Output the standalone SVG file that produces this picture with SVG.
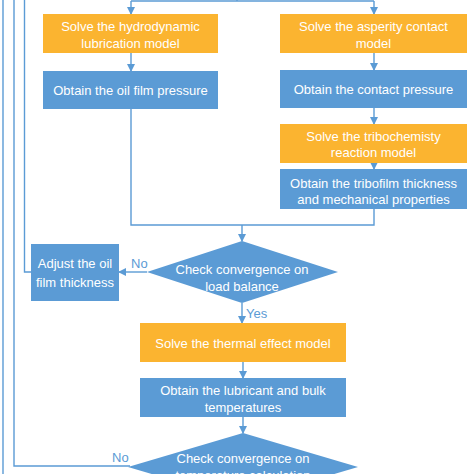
<svg xmlns="http://www.w3.org/2000/svg" width="474" height="474" viewBox="0 0 474 474">
<style>
.blue{fill:#5B9BD5}
.orange{fill:#FBB430}
.t{font-family:"Liberation Sans",Arial,sans-serif;font-size:13px;fill:#ffffff;text-anchor:middle}
.lbl{font-family:"Liberation Sans",Arial,sans-serif;font-size:13px;fill:#5B9BD5}
.c{fill:none;stroke:#5B9BD5;stroke-width:1.4}
</style>
<defs>
<marker id="ah" markerWidth="8" markerHeight="8" refX="7" refY="4" orient="auto" markerUnits="userSpaceOnUse">
<path d="M0,0 L8,4 L0,8 Z" fill="#5B9BD5"/>
</marker>
</defs>
<rect width="474" height="474" fill="#ffffff"/>
<g id="connectors">
<path class="c" d="M3,0 V474"/>
<path class="c" d="M237,-2 V1"/>
<path class="c" d="M131,1 H374"/>
<path class="c" d="M131,1 V14" marker-end="url(#ah)"/>
<path class="c" d="M374,1 V14" marker-end="url(#ah)"/>
<path class="c" d="M131,53 V71" marker-end="url(#ah)"/>
<path class="c" d="M374,53 V70" marker-end="url(#ah)"/>
<path class="c" d="M374,108 V124" marker-end="url(#ah)"/>
<path class="c" d="M374,163 V169" marker-end="url(#ah)"/>
<path class="c" d="M374,209 V225 H131 V109"/>
<path class="c" d="M242,225 V241" marker-end="url(#ah)"/>
<path class="c" d="M147,272 H119" marker-end="url(#ah)"/>
<path class="c" d="M31,272 H24.5 V0"/>
<path class="c" d="M242,303 V323" marker-end="url(#ah)"/>
<path class="c" d="M243,362 V378" marker-end="url(#ah)"/>
<path class="c" d="M243,417 V433" marker-end="url(#ah)"/>
<path class="c" d="M130,466 H14 V0"/>
<text class="lbl" x="131" y="268">No</text>
<text class="lbl" x="246" y="318">Yes</text>
<text class="lbl" x="112" y="462">No</text>
</g>
<g id="n1"><rect class="orange" x="43" y="14" width="175" height="39"/>
<text class="t" x="130.5" y="30.5">Solve the hydrodynamic</text><text class="t" x="130.5" y="47.5">lubrication model</text></g>
<g id="n2"><rect class="blue" x="43" y="71" width="175" height="38"/>
<text class="t" x="130.5" y="94.5">Obtain the oil film pressure</text></g>
<g id="n3"><rect class="orange" x="280" y="14" width="187" height="39"/>
<text class="t" x="373.5" y="30.5">Solve the asperity contact</text><text class="t" x="373.5" y="47.5">model</text></g>
<g id="n4"><rect class="blue" x="280" y="70" width="187" height="38"/>
<text class="t" x="373.5" y="93.5">Obtain the contact pressure</text></g>
<g id="n5"><rect class="orange" x="280" y="124" width="187" height="39"/>
<text class="t" x="373.5" y="140.5">Solve the tribochemisty</text><text class="t" x="373.5" y="157">reaction model</text></g>
<g id="n6"><rect class="blue" x="280" y="169" width="187" height="40"/>
<text class="t" x="373.5" y="187.5">Obtain the tribofilm thickness</text><text class="t" x="373.5" y="203.5">and mechanical properties</text></g>
<g id="d1"><polygon class="blue" points="242,241 338,272 242,303 147,272"/>
<text class="t" x="242" y="273.5">Check convergence on</text><text class="t" x="242" y="291">load balance</text></g>
<g id="n7"><rect class="blue" x="31" y="244" width="88" height="57"/>
<text class="t" x="75" y="267.5">Adjust the oil</text><text class="t" x="75" y="286.5">film thickness</text></g>
<g id="n8"><rect class="orange" x="140" y="323" width="206" height="39"/>
<text class="t" x="243" y="347.5">Solve the thermal effect model</text></g>
<g id="n9"><rect class="blue" x="140" y="378" width="206" height="39"/>
<text class="t" x="243" y="394.5">Obtain the lubricant and bulk</text><text class="t" x="243" y="411.5">temperatures</text></g>
<g id="d2"><polygon class="blue" points="243,433 358,467 243,501 128,467"/>
<text class="t" x="243" y="462.5">Check convergence on</text><text class="t" x="243" y="480">temperature calculation</text></g>
</svg>
